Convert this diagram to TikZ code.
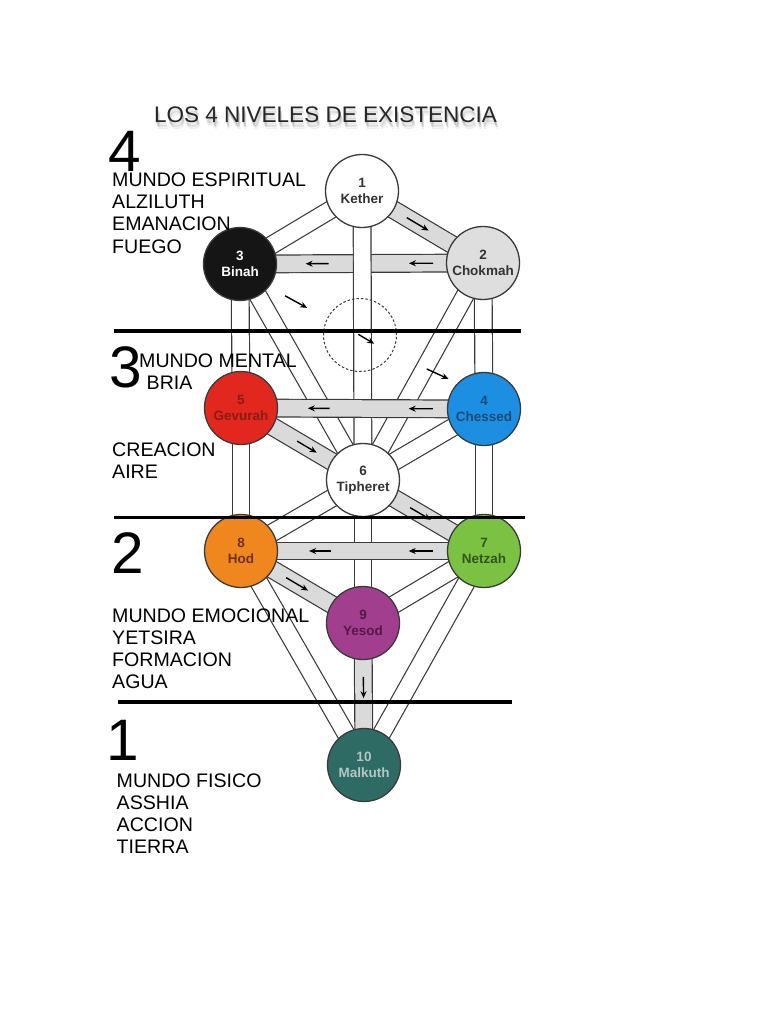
\documentclass[tikz,border=0pt]{standalone}
\usepackage{fontspec}
\setmainfont{Liberation Sans}
\usetikzlibrary{arrows.meta,calc}
\pgfdeclarelayer{paper}
\pgfdeclarelayer{background}
\pgfsetlayers{paper,background,main}
\definecolor{bandline}{HTML}{3A3A3A}
\definecolor{bandgray}{HTML}{DADADA}
\definecolor{txtdark}{HTML}{333333}
\definecolor{chokfill}{HTML}{DEDEDE}
\definecolor{binahfill}{HTML}{151515}
\definecolor{chesfill}{HTML}{1C8FE2}
\definecolor{chestxt}{HTML}{1E4A78}
\definecolor{gevfill}{HTML}{E2281E}
\definecolor{gevtxt}{HTML}{8A1C14}
\definecolor{netfill}{HTML}{7CC242}
\definecolor{nettxt}{HTML}{2C561A}
\definecolor{hodfill}{HTML}{F0861E}
\definecolor{hodtxt}{HTML}{6E3210}
\definecolor{yesfill}{HTML}{A23E8E}
\definecolor{yestxt}{HTML}{561848}
\definecolor{malfill}{HTML}{2E6B64}
\definecolor{maltxt}{HTML}{B4C6C2}
\begin{document}
\begin{tikzpicture}[x=1pt,y=-1pt,
  sephira/.style={circle, draw=bandline, line width=1.3pt, minimum size=73pt, inner sep=0pt, align=center, font=\fontsize{13.5}{16}\selectfont\bfseries},
  wband/.style={draw=bandline, line width=1.2pt, double=white, double distance=16.5pt},
  gband/.style={draw=bandline, line width=1.2pt, double=bandgray, double distance=16.5pt},
  flow/.style={-{Stealth[length=7pt,width=6pt]}, line width=1.4pt, black},
  world/.style={black},
  lbl/.style={anchor=base west, inner sep=0pt, font=\fontsize{19.6}{22}\selectfont},
  big/.style={anchor=base west, inner sep=0pt, font=\fontsize{58.5}{60}\selectfont},
  titlef/.style={anchor=base west, inner sep=0pt, font=\fontsize{22.5}{24}\selectfont},
]
\begin{pgfonlayer}{paper}
\fill[white] (0,0) rectangle (768,1024);
\end{pgfonlayer}
\useasboundingbox (0,0) rectangle (768,1024);

% sephirot
\node[sephira, fill=white, text=txtdark] (kether) at (362,191) {1\\Kether};
\node[sephira, fill=chokfill, text=txtdark] (chokmah) at (483,263) {2\\Chokmah};
\node[sephira, fill=binahfill, text=white] (binah) at (240,264) {3\\Binah};
\node[sephira, fill=chesfill, text=chestxt] (chessed) at (484,409) {4\\Chessed};
\node[sephira, fill=gevfill, text=gevtxt] (gevurah) at (241,408) {5\\Gevurah};
\node[sephira, fill=white, text=txtdark] (tipheret) at (363,480) {6\\Tipheret};
\node[sephira, fill=netfill, text=nettxt] (netzah) at (484,551) {7\\Netzah};
\node[sephira, fill=hodfill, text=hodtxt] (hod) at (241,551) {8\\Hod};
\node[sephira, fill=yesfill, text=yestxt] (yesod) at (363,623) {9\\Yesod};
\node[sephira, fill=malfill, text=maltxt] (malkuth) at (364,765) {10\\Malkuth};
\node[circle, draw=bandline, line width=1pt, dash pattern=on 2.5pt off 2pt, minimum size=73pt, inner sep=0pt] (daath) at (360,335) {};

% paths
\begin{pgfonlayer}{background}
\draw[gband] (chokmah.center) -- (binah.center);
\draw[wband] (kether.center) -- (binah.center);
\draw[gband] (kether.center) -- (chokmah.center);
\draw[wband] (kether.center) -- (tipheret.center);
\draw[wband] (binah.center) -- (tipheret.center);
\draw[wband] (chokmah.center) -- (tipheret.center);
\draw[wband] (binah.center) -- (gevurah.center);
\draw[wband] (chokmah.center) -- (chessed.center);
\draw[wband] (chessed.center) -- (tipheret.center);
\draw[gband] (chessed.center) -- (gevurah.center);
\draw[gband] (gevurah.center) -- (tipheret.center);
\draw[wband] (tipheret.center) -- (hod.center);
\draw[wband] (tipheret.center) -- (yesod.center);
\draw[gband] (tipheret.center) -- (netzah.center);
\draw[wband] (gevurah.center) -- (hod.center);
\draw[wband] (chessed.center) -- (netzah.center);
\draw[gband] (netzah.center) -- (hod.center);
\draw[wband] (hod.center) -- (malkuth.center);
\draw[wband] (netzah.center) -- (malkuth.center);
\draw[wband] (netzah.center) -- (yesod.center);
\draw[gband] (hod.center) -- (yesod.center);
\draw[gband] (yesod.center) -- (malkuth.center);
\end{pgfonlayer}

% flow arrows
\draw[flow] ($(kether)!0.37!(chokmah)$) -- ($(kether)!0.55!(chokmah)$);
\draw[flow] ($(chokmah)!0.205!(binah)$) -- ($(chokmah)!0.305!(binah)$);
\draw[flow] ($(chokmah)!0.635!(binah)$) -- ($(chokmah)!0.73!(binah)$);
\draw[flow] ($(binah)!0.185!(chessed)+(0,5)$) -- ($(binah)!0.275!(chessed)+(0,4)$);
\draw[flow] ($(binah)!0.485!(chessed)$) -- ($(binah)!0.55!(chessed)$);
\draw[flow] ($(binah)!0.765!(chessed)+(0,-6)$) -- ($(binah)!0.855!(chessed)+(0,-9)$);
\draw[flow] ($(chessed)!0.21!(gevurah)$) -- ($(chessed)!0.31!(gevurah)$);
\draw[flow] ($(chessed)!0.635!(gevurah)$) -- ($(chessed)!0.725!(gevurah)$);
\draw[flow] ($(gevurah)!0.46!(tipheret)$) -- ($(gevurah)!0.62!(tipheret)$);
\draw[flow] ($(tipheret)!0.39!(netzah)$) -- ($(tipheret)!0.56!(netzah)$);
\draw[flow] ($(netzah)!0.21!(hod)$) -- ($(netzah)!0.31!(hod)$);
\draw[flow] ($(netzah)!0.63!(hod)$) -- ($(netzah)!0.72!(hod)$);
\draw[flow] ($(hod)!0.37!(yesod)$) -- ($(hod)!0.55!(yesod)$);
\draw[flow] ($(yesod)!0.38!(malkuth)$) -- ($(yesod)!0.53!(malkuth)$);

% world dividing lines
\coordinate (w1a) at (114,331); \coordinate (w1b) at (521,331);
\coordinate (w2a) at (114,517); \coordinate (w2b) at (525,517);
\coordinate (w3a) at (118,702); \coordinate (w3b) at (512,702);
\draw[world, line width=4.2pt] (w1a) -- (w1b);
\draw[world, line width=3pt] (w2a) -- (w2b);
\draw[world, line width=3.6pt] (w3a) -- (w3b);

% title with soft shadow
\node[titlef, text=black!50, opacity=0.18] (tsh1) at (154.5,125) {LOS 4 NIVELES DE EXISTENCIA};
\node[titlef, text=black!50, opacity=0.18] (tsh2) at (155,126.5) {LOS 4 NIVELES DE EXISTENCIA};
\node[titlef, text=black!50, opacity=0.18] (tsh3) at (155.5,128) {LOS 4 NIVELES DE EXISTENCIA};
\node[titlef, text=black!50, opacity=0.12] (tsh4) at (156,129.5) {LOS 4 NIVELES DE EXISTENCIA};
\node[titlef, text=black!85] (title) at (154,123) {LOS 4 NIVELES DE EXISTENCIA};

% level 4
\node[big] (n4) at (108.5,172) {4};
\node[lbl] (l4a) at (112,187) {MUNDO ESPIRITUAL};
\node[lbl] (l4b) at (112,209) {ALZILUTH};
\node[lbl] (l4c) at (112,231) {EMANACION};
\node[lbl] (l4d) at (112,253) {FUEGO};
% level 3
\node[big] (n3) at (109.5,387) {3};
\node[lbl] (l3a) at (139,367) {MUNDO MENTAL};
\node[lbl] (l3b) at (146.5,389) {BRIA};
\node[lbl] (l3c) at (112,456) {CREACION};
\node[lbl] (l3d) at (112,478) {AIRE};
% level 2
\node[big] (n2) at (111,573) {2};
\node[lbl] (l2a) at (112,622) {MUNDO EMOCIONAL};
\node[lbl] (l2b) at (112,644) {YETSIRA};
\node[lbl] (l2c) at (112,666) {FORMACION};
\node[lbl] (l2d) at (112,688) {AGUA};
% level 1
\node[big] (n1) at (106,760) {1};
\node[lbl] (l1a) at (116.5,787) {MUNDO FISICO};
\node[lbl] (l1b) at (116.5,809) {ASSHIA};
\node[lbl] (l1c) at (116.5,831) {ACCION};
\node[lbl] (l1d) at (116.5,853) {TIERRA};
\end{tikzpicture}
\end{document}
